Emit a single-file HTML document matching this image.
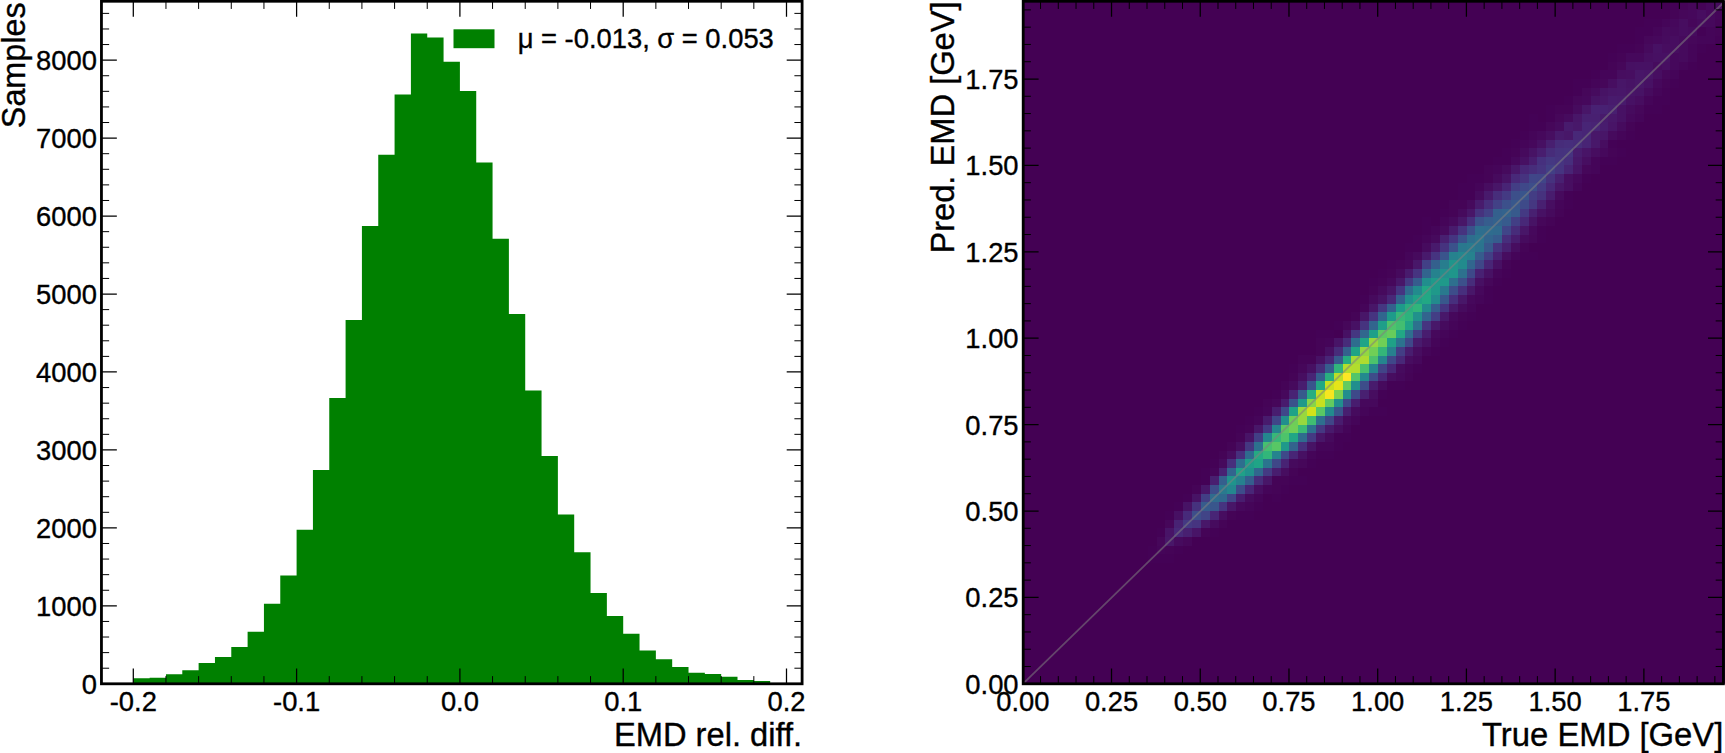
<!DOCTYPE html>
<html><head><meta charset="utf-8"><title>EMD regression</title>
<style>
html,body{margin:0;padding:0;background:#fff;}
body{width:1725px;height:753px;overflow:hidden;}
svg{display:block;font-family:"Liberation Sans", sans-serif;}
text{stroke:#000;stroke-width:0.35px;}
</style></head><body>
<svg width="1725" height="753" viewBox="0 0 1725 753">
<rect width="1725" height="753" fill="#fff"/>
<path d="M133.3 683.8L133.3 678.2L149.63 678.2L149.63 677.7L165.96 677.7L165.96 674.2L182.29 674.2L182.29 670.2L198.62 670.2L198.62 663L214.95 663L214.95 657L231.28 657L231.28 647L247.61 647L247.61 631.7L263.94 631.7L263.94 603.8L280.27 603.8L280.27 575.4L296.6 575.4L296.6 529.8L312.93 529.8L312.93 469.9L329.26 469.9L329.26 397.9L345.59 397.9L345.59 319.9L361.92 319.9L361.92 226L378.25 226L378.25 154.7L394.58 154.7L394.58 94.5L410.91 94.5L410.91 33.6L427.24 33.6L427.24 37.6L443.57 37.6L443.57 61.7L459.9 61.7L459.9 91L476.23 91L476.23 162.4L492.56 162.4L492.56 238.8L508.89 238.8L508.89 313.9L525.22 313.9L525.22 390.5L541.55 390.5L541.55 456L557.88 456L557.88 514.6L574.21 514.6L574.21 552.3L590.54 552.3L590.54 592.9L606.87 592.9L606.87 616L623.2 616L623.2 633.7L639.53 633.7L639.53 650.4L655.86 650.4L655.86 659.2L672.19 659.2L672.19 667L688.52 667L688.52 672.7L704.85 672.7L704.85 674L721.18 674L721.18 676.8L737.51 676.8L737.51 680L753.84 680L753.84 681L770.17 681L770.17 684L786.5 684L786.5 683.8Z" fill="#008000"/>
<path d="M133.3 1.25v15.4M133.3 683.8v-15.4M296.6 1.25v15.4M296.6 683.8v-15.4M459.9 1.25v15.4M459.9 683.8v-15.4M623.2 1.25v15.4M623.2 683.8v-15.4M786.5 1.25v15.4M786.5 683.8v-15.4" stroke="#000" stroke-width="1.25" fill="none"/>
<path d="M165.96 1.25v7.7M165.96 683.8v-7.7M198.62 1.25v7.7M198.62 683.8v-7.7M231.28 1.25v7.7M231.28 683.8v-7.7M263.94 1.25v7.7M263.94 683.8v-7.7M329.26 1.25v7.7M329.26 683.8v-7.7M361.92 1.25v7.7M361.92 683.8v-7.7M394.58 1.25v7.7M394.58 683.8v-7.7M427.24 1.25v7.7M427.24 683.8v-7.7M492.56 1.25v7.7M492.56 683.8v-7.7M525.22 1.25v7.7M525.22 683.8v-7.7M557.88 1.25v7.7M557.88 683.8v-7.7M590.54 1.25v7.7M590.54 683.8v-7.7M655.86 1.25v7.7M655.86 683.8v-7.7M688.52 1.25v7.7M688.52 683.8v-7.7M721.18 1.25v7.7M721.18 683.8v-7.7M753.84 1.25v7.7M753.84 683.8v-7.7" stroke="#000" stroke-width="1.0" fill="none"/>
<path d="M101.45 683.8h15.4M802.1 683.8h-15.4M101.45 605.84h15.4M802.1 605.84h-15.4M101.45 527.89h15.4M802.1 527.89h-15.4M101.45 449.93h15.4M802.1 449.93h-15.4M101.45 371.98h15.4M802.1 371.98h-15.4M101.45 294.02h15.4M802.1 294.02h-15.4M101.45 216.06h15.4M802.1 216.06h-15.4M101.45 138.11h15.4M802.1 138.11h-15.4M101.45 60.15h15.4M802.1 60.15h-15.4" stroke="#000" stroke-width="1.25" fill="none"/>
<path d="M101.45 668.21h7.7M802.1 668.21h-7.7M101.45 652.62h7.7M802.1 652.62h-7.7M101.45 637.03h7.7M802.1 637.03h-7.7M101.45 621.44h7.7M802.1 621.44h-7.7M101.45 590.25h7.7M802.1 590.25h-7.7M101.45 574.66h7.7M802.1 574.66h-7.7M101.45 559.07h7.7M802.1 559.07h-7.7M101.45 543.48h7.7M802.1 543.48h-7.7M101.45 512.3h7.7M802.1 512.3h-7.7M101.45 496.71h7.7M802.1 496.71h-7.7M101.45 481.11h7.7M802.1 481.11h-7.7M101.45 465.52h7.7M802.1 465.52h-7.7M101.45 434.34h7.7M802.1 434.34h-7.7M101.45 418.75h7.7M802.1 418.75h-7.7M101.45 403.16h7.7M802.1 403.16h-7.7M101.45 387.57h7.7M802.1 387.57h-7.7M101.45 356.38h7.7M802.1 356.38h-7.7M101.45 340.79h7.7M802.1 340.79h-7.7M101.45 325.2h7.7M802.1 325.2h-7.7M101.45 309.61h7.7M802.1 309.61h-7.7M101.45 278.43h7.7M802.1 278.43h-7.7M101.45 262.84h7.7M802.1 262.84h-7.7M101.45 247.25h7.7M802.1 247.25h-7.7M101.45 231.66h7.7M802.1 231.66h-7.7M101.45 200.47h7.7M802.1 200.47h-7.7M101.45 184.88h7.7M802.1 184.88h-7.7M101.45 169.29h7.7M802.1 169.29h-7.7M101.45 153.7h7.7M802.1 153.7h-7.7M101.45 122.52h7.7M802.1 122.52h-7.7M101.45 106.93h7.7M802.1 106.93h-7.7M101.45 91.33h7.7M802.1 91.33h-7.7M101.45 75.74h7.7M802.1 75.74h-7.7M101.45 44.56h7.7M802.1 44.56h-7.7M101.45 28.97h7.7M802.1 28.97h-7.7M101.45 13.38h7.7M802.1 13.38h-7.7" stroke="#000" stroke-width="1.0" fill="none"/>
<rect x="101.45" y="1.25" width="700.65" height="682.55" fill="none" stroke="#000" stroke-width="2.8"/>
<g font-size="27.35" fill="#000">
<text x="133.3" y="711.0" text-anchor="middle">-0.2</text>
<text x="296.6" y="711.0" text-anchor="middle">-0.1</text>
<text x="459.9" y="711.0" text-anchor="middle">0.0</text>
<text x="623.2" y="711.0" text-anchor="middle">0.1</text>
<text x="786.5" y="711.0" text-anchor="middle">0.2</text>
<text x="96.9" y="693.7" text-anchor="end">0</text>
<text x="96.9" y="615.74" text-anchor="end">1000</text>
<text x="96.9" y="537.79" text-anchor="end">2000</text>
<text x="96.9" y="459.83" text-anchor="end">3000</text>
<text x="96.9" y="381.88" text-anchor="end">4000</text>
<text x="96.9" y="303.92" text-anchor="end">5000</text>
<text x="96.9" y="225.96" text-anchor="end">6000</text>
<text x="96.9" y="148.01" text-anchor="end">7000</text>
<text x="96.9" y="70.05" text-anchor="end">8000</text>
</g>
<rect x="453.5" y="29.3" width="41" height="18.9" fill="#008000"/>
<text x="517.7" y="47.6" font-size="27.35">μ = -0.013, σ = 0.053</text>
<text x="802.2" y="745.6" font-size="32.7" text-anchor="end">EMD rel. diff.</text>
<text transform="translate(24.7 2.4) rotate(-90)" font-size="32.33" text-anchor="end">Samples</text>
<clipPath id="cr"><rect x="1023.2" y="1.25" width="701.8" height="682.55"/></clipPath>
<rect x="1023.2" y="1.25" width="701.8" height="682.55" fill="#440154"/>
<g clip-path="url(#cr)" shape-rendering="crispEdges">
<rect x="1147.64" y="554.2" width="8.91" height="8.69" fill="#440256"/>
<rect x="1147.64" y="545.56" width="8.91" height="8.69" fill="#440256"/>
<rect x="1156.5" y="554.2" width="8.91" height="8.69" fill="#440256"/>
<rect x="1156.5" y="545.56" width="8.91" height="8.69" fill="#450559"/>
<rect x="1156.5" y="536.92" width="8.91" height="8.69" fill="#46075a"/>
<rect x="1156.5" y="528.28" width="8.91" height="8.69" fill="#440256"/>
<rect x="1165.36" y="554.2" width="8.91" height="8.69" fill="#440256"/>
<rect x="1165.36" y="545.56" width="8.91" height="8.69" fill="#450457"/>
<rect x="1165.36" y="536.92" width="8.91" height="8.69" fill="#481769"/>
<rect x="1165.36" y="528.28" width="8.91" height="8.69" fill="#481467"/>
<rect x="1165.36" y="519.64" width="8.91" height="8.69" fill="#46075a"/>
<rect x="1165.36" y="511" width="8.91" height="8.69" fill="#440256"/>
<rect x="1174.22" y="545.56" width="8.91" height="8.69" fill="#440256"/>
<rect x="1174.22" y="536.92" width="8.91" height="8.69" fill="#460b5e"/>
<rect x="1174.22" y="528.28" width="8.91" height="8.69" fill="#482979"/>
<rect x="1174.22" y="519.64" width="8.91" height="8.69" fill="#482374"/>
<rect x="1174.22" y="511" width="8.91" height="8.69" fill="#471063"/>
<rect x="1174.22" y="502.36" width="8.91" height="8.69" fill="#440256"/>
<rect x="1183.08" y="536.92" width="8.91" height="8.69" fill="#46075a"/>
<rect x="1183.08" y="528.28" width="8.91" height="8.69" fill="#482071"/>
<rect x="1183.08" y="519.64" width="8.91" height="8.69" fill="#443983"/>
<rect x="1183.08" y="511" width="8.91" height="8.69" fill="#472a7a"/>
<rect x="1183.08" y="502.36" width="8.91" height="8.69" fill="#471365"/>
<rect x="1183.08" y="493.72" width="8.91" height="8.69" fill="#440256"/>
<rect x="1191.94" y="528.28" width="8.91" height="8.69" fill="#481467"/>
<rect x="1191.94" y="519.64" width="8.91" height="8.69" fill="#463480"/>
<rect x="1191.94" y="511" width="8.91" height="8.69" fill="#3d4e8a"/>
<rect x="1191.94" y="502.36" width="8.91" height="8.69" fill="#46327e"/>
<rect x="1191.94" y="493.72" width="8.91" height="8.69" fill="#471365"/>
<rect x="1191.94" y="485.08" width="8.91" height="8.69" fill="#450457"/>
<rect x="1200.8" y="528.28" width="8.91" height="8.69" fill="#450457"/>
<rect x="1200.8" y="519.64" width="8.91" height="8.69" fill="#481769"/>
<rect x="1200.8" y="511" width="8.91" height="8.69" fill="#414487"/>
<rect x="1200.8" y="502.36" width="8.91" height="8.69" fill="#365c8d"/>
<rect x="1200.8" y="493.72" width="8.91" height="8.69" fill="#423f85"/>
<rect x="1200.8" y="485.08" width="8.91" height="8.69" fill="#481769"/>
<rect x="1200.8" y="476.44" width="8.91" height="8.69" fill="#440256"/>
<rect x="1200.8" y="467.8" width="8.91" height="8.69" fill="#440256"/>
<rect x="1209.66" y="528.28" width="8.91" height="8.69" fill="#440256"/>
<rect x="1209.66" y="519.64" width="8.91" height="8.69" fill="#460b5e"/>
<rect x="1209.66" y="511" width="8.91" height="8.69" fill="#482576"/>
<rect x="1209.66" y="502.36" width="8.91" height="8.69" fill="#39568c"/>
<rect x="1209.66" y="493.72" width="8.91" height="8.69" fill="#2f6c8e"/>
<rect x="1209.66" y="485.08" width="8.91" height="8.69" fill="#3d4d8a"/>
<rect x="1209.66" y="476.44" width="8.91" height="8.69" fill="#481f70"/>
<rect x="1209.66" y="467.8" width="8.91" height="8.69" fill="#450559"/>
<rect x="1209.66" y="459.16" width="8.91" height="8.69" fill="#440256"/>
<rect x="1218.52" y="519.64" width="8.91" height="8.69" fill="#450457"/>
<rect x="1218.52" y="511" width="8.91" height="8.69" fill="#470d60"/>
<rect x="1218.52" y="502.36" width="8.91" height="8.69" fill="#463480"/>
<rect x="1218.52" y="493.72" width="8.91" height="8.69" fill="#30698e"/>
<rect x="1218.52" y="485.08" width="8.91" height="8.69" fill="#297a8e"/>
<rect x="1218.52" y="476.44" width="8.91" height="8.69" fill="#355f8d"/>
<rect x="1218.52" y="467.8" width="8.91" height="8.69" fill="#482173"/>
<rect x="1218.52" y="459.16" width="8.91" height="8.69" fill="#460a5d"/>
<rect x="1218.52" y="450.52" width="8.91" height="8.69" fill="#450457"/>
<rect x="1227.38" y="511" width="8.91" height="8.69" fill="#450457"/>
<rect x="1227.38" y="502.36" width="8.91" height="8.69" fill="#481668"/>
<rect x="1227.38" y="493.72" width="8.91" height="8.69" fill="#404688"/>
<rect x="1227.38" y="485.08" width="8.91" height="8.69" fill="#24878e"/>
<rect x="1227.38" y="476.44" width="8.91" height="8.69" fill="#1f948c"/>
<rect x="1227.38" y="467.8" width="8.91" height="8.69" fill="#32648e"/>
<rect x="1227.38" y="459.16" width="8.91" height="8.69" fill="#472f7d"/>
<rect x="1227.38" y="450.52" width="8.91" height="8.69" fill="#470d60"/>
<rect x="1227.38" y="441.88" width="8.91" height="8.69" fill="#450457"/>
<rect x="1236.24" y="511" width="8.91" height="8.69" fill="#440256"/>
<rect x="1236.24" y="502.36" width="8.91" height="8.69" fill="#46085c"/>
<rect x="1236.24" y="493.72" width="8.91" height="8.69" fill="#481d6f"/>
<rect x="1236.24" y="485.08" width="8.91" height="8.69" fill="#3d4d8a"/>
<rect x="1236.24" y="476.44" width="8.91" height="8.69" fill="#26828e"/>
<rect x="1236.24" y="467.8" width="8.91" height="8.69" fill="#1fa188"/>
<rect x="1236.24" y="459.16" width="8.91" height="8.69" fill="#2e6e8e"/>
<rect x="1236.24" y="450.52" width="8.91" height="8.69" fill="#472f7d"/>
<rect x="1236.24" y="441.88" width="8.91" height="8.69" fill="#470e61"/>
<rect x="1236.24" y="433.24" width="8.91" height="8.69" fill="#450457"/>
<rect x="1236.24" y="424.6" width="8.91" height="8.69" fill="#440256"/>
<rect x="1245.1" y="511" width="8.91" height="8.69" fill="#440256"/>
<rect x="1245.1" y="502.36" width="8.91" height="8.69" fill="#450559"/>
<rect x="1245.1" y="493.72" width="8.91" height="8.69" fill="#460b5e"/>
<rect x="1245.1" y="485.08" width="8.91" height="8.69" fill="#482677"/>
<rect x="1245.1" y="476.44" width="8.91" height="8.69" fill="#355e8d"/>
<rect x="1245.1" y="467.8" width="8.91" height="8.69" fill="#20928c"/>
<rect x="1245.1" y="459.16" width="8.91" height="8.69" fill="#1e9c89"/>
<rect x="1245.1" y="450.52" width="8.91" height="8.69" fill="#2f6b8e"/>
<rect x="1245.1" y="441.88" width="8.91" height="8.69" fill="#453781"/>
<rect x="1245.1" y="433.24" width="8.91" height="8.69" fill="#481467"/>
<rect x="1245.1" y="424.6" width="8.91" height="8.69" fill="#450457"/>
<rect x="1245.1" y="415.96" width="8.91" height="8.69" fill="#440256"/>
<rect x="1253.96" y="502.36" width="8.91" height="8.69" fill="#440256"/>
<rect x="1253.96" y="493.72" width="8.91" height="8.69" fill="#450559"/>
<rect x="1253.96" y="485.08" width="8.91" height="8.69" fill="#470e61"/>
<rect x="1253.96" y="476.44" width="8.91" height="8.69" fill="#472d7b"/>
<rect x="1253.96" y="467.8" width="8.91" height="8.69" fill="#31678e"/>
<rect x="1253.96" y="459.16" width="8.91" height="8.69" fill="#20a486"/>
<rect x="1253.96" y="450.52" width="8.91" height="8.69" fill="#24aa83"/>
<rect x="1253.96" y="441.88" width="8.91" height="8.69" fill="#2d718e"/>
<rect x="1253.96" y="433.24" width="8.91" height="8.69" fill="#423f85"/>
<rect x="1253.96" y="424.6" width="8.91" height="8.69" fill="#481769"/>
<rect x="1253.96" y="415.96" width="8.91" height="8.69" fill="#450559"/>
<rect x="1253.96" y="407.32" width="8.91" height="8.69" fill="#440256"/>
<rect x="1262.82" y="485.08" width="8.91" height="8.69" fill="#450559"/>
<rect x="1262.82" y="476.44" width="8.91" height="8.69" fill="#481668"/>
<rect x="1262.82" y="467.8" width="8.91" height="8.69" fill="#443a83"/>
<rect x="1262.82" y="459.16" width="8.91" height="8.69" fill="#2b748e"/>
<rect x="1262.82" y="450.52" width="8.91" height="8.69" fill="#32b67a"/>
<rect x="1262.82" y="441.88" width="8.91" height="8.69" fill="#46c06f"/>
<rect x="1262.82" y="433.24" width="8.91" height="8.69" fill="#24868e"/>
<rect x="1262.82" y="424.6" width="8.91" height="8.69" fill="#443983"/>
<rect x="1262.82" y="415.96" width="8.91" height="8.69" fill="#481b6d"/>
<rect x="1262.82" y="407.32" width="8.91" height="8.69" fill="#450559"/>
<rect x="1262.82" y="398.68" width="8.91" height="8.69" fill="#450457"/>
<rect x="1271.68" y="493.72" width="8.91" height="8.69" fill="#440256"/>
<rect x="1271.68" y="485.08" width="8.91" height="8.69" fill="#450457"/>
<rect x="1271.68" y="476.44" width="8.91" height="8.69" fill="#450457"/>
<rect x="1271.68" y="467.8" width="8.91" height="8.69" fill="#481d6f"/>
<rect x="1271.68" y="459.16" width="8.91" height="8.69" fill="#3f4788"/>
<rect x="1271.68" y="450.52" width="8.91" height="8.69" fill="#25838e"/>
<rect x="1271.68" y="441.88" width="8.91" height="8.69" fill="#58c765"/>
<rect x="1271.68" y="433.24" width="8.91" height="8.69" fill="#37b878"/>
<rect x="1271.68" y="424.6" width="8.91" height="8.69" fill="#25858e"/>
<rect x="1271.68" y="415.96" width="8.91" height="8.69" fill="#404588"/>
<rect x="1271.68" y="407.32" width="8.91" height="8.69" fill="#481d6f"/>
<rect x="1271.68" y="398.68" width="8.91" height="8.69" fill="#46075a"/>
<rect x="1271.68" y="390.04" width="8.91" height="8.69" fill="#440256"/>
<rect x="1280.54" y="485.08" width="8.91" height="8.69" fill="#440256"/>
<rect x="1280.54" y="476.44" width="8.91" height="8.69" fill="#450457"/>
<rect x="1280.54" y="467.8" width="8.91" height="8.69" fill="#470d60"/>
<rect x="1280.54" y="459.16" width="8.91" height="8.69" fill="#482374"/>
<rect x="1280.54" y="450.52" width="8.91" height="8.69" fill="#3e4989"/>
<rect x="1280.54" y="441.88" width="8.91" height="8.69" fill="#1f998a"/>
<rect x="1280.54" y="433.24" width="8.91" height="8.69" fill="#4ec36b"/>
<rect x="1280.54" y="424.6" width="8.91" height="8.69" fill="#5cc863"/>
<rect x="1280.54" y="415.96" width="8.91" height="8.69" fill="#218f8d"/>
<rect x="1280.54" y="407.32" width="8.91" height="8.69" fill="#3f4889"/>
<rect x="1280.54" y="398.68" width="8.91" height="8.69" fill="#481b6d"/>
<rect x="1280.54" y="390.04" width="8.91" height="8.69" fill="#46085c"/>
<rect x="1280.54" y="381.4" width="8.91" height="8.69" fill="#450457"/>
<rect x="1289.4" y="476.44" width="8.91" height="8.69" fill="#440256"/>
<rect x="1289.4" y="467.8" width="8.91" height="8.69" fill="#450457"/>
<rect x="1289.4" y="459.16" width="8.91" height="8.69" fill="#460a5d"/>
<rect x="1289.4" y="450.52" width="8.91" height="8.69" fill="#482576"/>
<rect x="1289.4" y="441.88" width="8.91" height="8.69" fill="#33638d"/>
<rect x="1289.4" y="433.24" width="8.91" height="8.69" fill="#21a685"/>
<rect x="1289.4" y="424.6" width="8.91" height="8.69" fill="#70cf57"/>
<rect x="1289.4" y="415.96" width="8.91" height="8.69" fill="#6ece58"/>
<rect x="1289.4" y="407.32" width="8.91" height="8.69" fill="#1fa287"/>
<rect x="1289.4" y="398.68" width="8.91" height="8.69" fill="#3a538b"/>
<rect x="1289.4" y="390.04" width="8.91" height="8.69" fill="#482374"/>
<rect x="1289.4" y="381.4" width="8.91" height="8.69" fill="#460a5d"/>
<rect x="1289.4" y="372.76" width="8.91" height="8.69" fill="#450457"/>
<rect x="1289.4" y="364.12" width="8.91" height="8.69" fill="#440256"/>
<rect x="1298.26" y="476.44" width="8.91" height="8.69" fill="#440256"/>
<rect x="1298.26" y="459.16" width="8.91" height="8.69" fill="#46075a"/>
<rect x="1298.26" y="450.52" width="8.91" height="8.69" fill="#471063"/>
<rect x="1298.26" y="441.88" width="8.91" height="8.69" fill="#472f7d"/>
<rect x="1298.26" y="433.24" width="8.91" height="8.69" fill="#2f6c8e"/>
<rect x="1298.26" y="424.6" width="8.91" height="8.69" fill="#3bbb75"/>
<rect x="1298.26" y="415.96" width="8.91" height="8.69" fill="#98d83e"/>
<rect x="1298.26" y="407.32" width="8.91" height="8.69" fill="#98d83e"/>
<rect x="1298.26" y="398.68" width="8.91" height="8.69" fill="#1f998a"/>
<rect x="1298.26" y="390.04" width="8.91" height="8.69" fill="#375a8c"/>
<rect x="1298.26" y="381.4" width="8.91" height="8.69" fill="#481d6f"/>
<rect x="1298.26" y="372.76" width="8.91" height="8.69" fill="#470e61"/>
<rect x="1298.26" y="364.12" width="8.91" height="8.69" fill="#46075a"/>
<rect x="1298.26" y="355.48" width="8.91" height="8.69" fill="#450457"/>
<rect x="1307.12" y="459.16" width="8.91" height="8.69" fill="#440256"/>
<rect x="1307.12" y="450.52" width="8.91" height="8.69" fill="#450559"/>
<rect x="1307.12" y="441.88" width="8.91" height="8.69" fill="#471365"/>
<rect x="1307.12" y="433.24" width="8.91" height="8.69" fill="#443a83"/>
<rect x="1307.12" y="424.6" width="8.91" height="8.69" fill="#2d718e"/>
<rect x="1307.12" y="415.96" width="8.91" height="8.69" fill="#40bd72"/>
<rect x="1307.12" y="407.32" width="8.91" height="8.69" fill="#d2e21b"/>
<rect x="1307.12" y="398.68" width="8.91" height="8.69" fill="#86d549"/>
<rect x="1307.12" y="390.04" width="8.91" height="8.69" fill="#27ad81"/>
<rect x="1307.12" y="381.4" width="8.91" height="8.69" fill="#39558c"/>
<rect x="1307.12" y="372.76" width="8.91" height="8.69" fill="#482576"/>
<rect x="1307.12" y="364.12" width="8.91" height="8.69" fill="#471063"/>
<rect x="1307.12" y="355.48" width="8.91" height="8.69" fill="#450457"/>
<rect x="1315.98" y="450.52" width="8.91" height="8.69" fill="#440256"/>
<rect x="1315.98" y="441.88" width="8.91" height="8.69" fill="#450559"/>
<rect x="1315.98" y="433.24" width="8.91" height="8.69" fill="#481668"/>
<rect x="1315.98" y="424.6" width="8.91" height="8.69" fill="#453882"/>
<rect x="1315.98" y="415.96" width="8.91" height="8.69" fill="#2e6f8e"/>
<rect x="1315.98" y="407.32" width="8.91" height="8.69" fill="#5ac864"/>
<rect x="1315.98" y="398.68" width="8.91" height="8.69" fill="#c8e020"/>
<rect x="1315.98" y="390.04" width="8.91" height="8.69" fill="#c2df23"/>
<rect x="1315.98" y="381.4" width="8.91" height="8.69" fill="#22a884"/>
<rect x="1315.98" y="372.76" width="8.91" height="8.69" fill="#355f8d"/>
<rect x="1315.98" y="364.12" width="8.91" height="8.69" fill="#472c7a"/>
<rect x="1315.98" y="355.48" width="8.91" height="8.69" fill="#471164"/>
<rect x="1315.98" y="346.84" width="8.91" height="8.69" fill="#450457"/>
<rect x="1315.98" y="338.2" width="8.91" height="8.69" fill="#450457"/>
<rect x="1315.98" y="329.56" width="8.91" height="8.69" fill="#440256"/>
<rect x="1324.84" y="450.52" width="8.91" height="8.69" fill="#440256"/>
<rect x="1324.84" y="441.88" width="8.91" height="8.69" fill="#450559"/>
<rect x="1324.84" y="433.24" width="8.91" height="8.69" fill="#460a5d"/>
<rect x="1324.84" y="424.6" width="8.91" height="8.69" fill="#481a6c"/>
<rect x="1324.84" y="415.96" width="8.91" height="8.69" fill="#404688"/>
<rect x="1324.84" y="407.32" width="8.91" height="8.69" fill="#228b8d"/>
<rect x="1324.84" y="398.68" width="8.91" height="8.69" fill="#63cb5f"/>
<rect x="1324.84" y="390.04" width="8.91" height="8.69" fill="#f6e620"/>
<rect x="1324.84" y="381.4" width="8.91" height="8.69" fill="#c8e020"/>
<rect x="1324.84" y="372.76" width="8.91" height="8.69" fill="#29af7f"/>
<rect x="1324.84" y="364.12" width="8.91" height="8.69" fill="#365d8d"/>
<rect x="1324.84" y="355.48" width="8.91" height="8.69" fill="#482677"/>
<rect x="1324.84" y="346.84" width="8.91" height="8.69" fill="#471063"/>
<rect x="1324.84" y="338.2" width="8.91" height="8.69" fill="#450559"/>
<rect x="1324.84" y="329.56" width="8.91" height="8.69" fill="#440256"/>
<rect x="1333.7" y="441.88" width="8.91" height="8.69" fill="#440256"/>
<rect x="1333.7" y="433.24" width="8.91" height="8.69" fill="#440256"/>
<rect x="1333.7" y="424.6" width="8.91" height="8.69" fill="#470d60"/>
<rect x="1333.7" y="415.96" width="8.91" height="8.69" fill="#481c6e"/>
<rect x="1333.7" y="407.32" width="8.91" height="8.69" fill="#39558c"/>
<rect x="1333.7" y="398.68" width="8.91" height="8.69" fill="#218f8d"/>
<rect x="1333.7" y="390.04" width="8.91" height="8.69" fill="#7cd250"/>
<rect x="1333.7" y="381.4" width="8.91" height="8.69" fill="#e5e419"/>
<rect x="1333.7" y="372.76" width="8.91" height="8.69" fill="#bade28"/>
<rect x="1333.7" y="364.12" width="8.91" height="8.69" fill="#31b57b"/>
<rect x="1333.7" y="355.48" width="8.91" height="8.69" fill="#375b8d"/>
<rect x="1333.7" y="346.84" width="8.91" height="8.69" fill="#472c7a"/>
<rect x="1333.7" y="338.2" width="8.91" height="8.69" fill="#481467"/>
<rect x="1333.7" y="320.92" width="8.91" height="8.69" fill="#440256"/>
<rect x="1342.56" y="433.24" width="8.91" height="8.69" fill="#440256"/>
<rect x="1342.56" y="424.6" width="8.91" height="8.69" fill="#450559"/>
<rect x="1342.56" y="415.96" width="8.91" height="8.69" fill="#460a5d"/>
<rect x="1342.56" y="407.32" width="8.91" height="8.69" fill="#481f70"/>
<rect x="1342.56" y="398.68" width="8.91" height="8.69" fill="#3f4889"/>
<rect x="1342.56" y="390.04" width="8.91" height="8.69" fill="#228d8d"/>
<rect x="1342.56" y="381.4" width="8.91" height="8.69" fill="#63cb5f"/>
<rect x="1342.56" y="372.76" width="8.91" height="8.69" fill="#fde725"/>
<rect x="1342.56" y="364.12" width="8.91" height="8.69" fill="#b5de2b"/>
<rect x="1342.56" y="355.48" width="8.91" height="8.69" fill="#26ad81"/>
<rect x="1342.56" y="346.84" width="8.91" height="8.69" fill="#34618d"/>
<rect x="1342.56" y="338.2" width="8.91" height="8.69" fill="#472c7a"/>
<rect x="1342.56" y="329.56" width="8.91" height="8.69" fill="#471164"/>
<rect x="1342.56" y="320.92" width="8.91" height="8.69" fill="#46075a"/>
<rect x="1351.42" y="415.96" width="8.91" height="8.69" fill="#450559"/>
<rect x="1351.42" y="407.32" width="8.91" height="8.69" fill="#460b5e"/>
<rect x="1351.42" y="398.68" width="8.91" height="8.69" fill="#481d6f"/>
<rect x="1351.42" y="390.04" width="8.91" height="8.69" fill="#3e4989"/>
<rect x="1351.42" y="381.4" width="8.91" height="8.69" fill="#218e8d"/>
<rect x="1351.42" y="372.76" width="8.91" height="8.69" fill="#52c569"/>
<rect x="1351.42" y="364.12" width="8.91" height="8.69" fill="#b2dd2d"/>
<rect x="1351.42" y="355.48" width="8.91" height="8.69" fill="#a5db36"/>
<rect x="1351.42" y="346.84" width="8.91" height="8.69" fill="#20a386"/>
<rect x="1351.42" y="338.2" width="8.91" height="8.69" fill="#2e6d8e"/>
<rect x="1351.42" y="329.56" width="8.91" height="8.69" fill="#453781"/>
<rect x="1351.42" y="320.92" width="8.91" height="8.69" fill="#471164"/>
<rect x="1351.42" y="312.28" width="8.91" height="8.69" fill="#450457"/>
<rect x="1360.28" y="407.32" width="8.91" height="8.69" fill="#450559"/>
<rect x="1360.28" y="398.68" width="8.91" height="8.69" fill="#46085c"/>
<rect x="1360.28" y="390.04" width="8.91" height="8.69" fill="#482071"/>
<rect x="1360.28" y="381.4" width="8.91" height="8.69" fill="#3d4d8a"/>
<rect x="1360.28" y="372.76" width="8.91" height="8.69" fill="#23898e"/>
<rect x="1360.28" y="364.12" width="8.91" height="8.69" fill="#48c16e"/>
<rect x="1360.28" y="355.48" width="8.91" height="8.69" fill="#addc30"/>
<rect x="1360.28" y="346.84" width="8.91" height="8.69" fill="#93d741"/>
<rect x="1360.28" y="338.2" width="8.91" height="8.69" fill="#20a486"/>
<rect x="1360.28" y="329.56" width="8.91" height="8.69" fill="#31678e"/>
<rect x="1360.28" y="320.92" width="8.91" height="8.69" fill="#46337f"/>
<rect x="1360.28" y="312.28" width="8.91" height="8.69" fill="#481668"/>
<rect x="1360.28" y="303.64" width="8.91" height="8.69" fill="#450559"/>
<rect x="1360.28" y="295" width="8.91" height="8.69" fill="#440256"/>
<rect x="1369.14" y="407.32" width="8.91" height="8.69" fill="#440256"/>
<rect x="1369.14" y="398.68" width="8.91" height="8.69" fill="#46085c"/>
<rect x="1369.14" y="390.04" width="8.91" height="8.69" fill="#470d60"/>
<rect x="1369.14" y="381.4" width="8.91" height="8.69" fill="#481b6d"/>
<rect x="1369.14" y="372.76" width="8.91" height="8.69" fill="#3e4c8a"/>
<rect x="1369.14" y="364.12" width="8.91" height="8.69" fill="#25858e"/>
<rect x="1369.14" y="355.48" width="8.91" height="8.69" fill="#4cc26c"/>
<rect x="1369.14" y="346.84" width="8.91" height="8.69" fill="#70cf57"/>
<rect x="1369.14" y="338.2" width="8.91" height="8.69" fill="#98d83e"/>
<rect x="1369.14" y="329.56" width="8.91" height="8.69" fill="#1f9f88"/>
<rect x="1369.14" y="320.92" width="8.91" height="8.69" fill="#32658e"/>
<rect x="1369.14" y="312.28" width="8.91" height="8.69" fill="#463480"/>
<rect x="1369.14" y="303.64" width="8.91" height="8.69" fill="#481668"/>
<rect x="1369.14" y="295" width="8.91" height="8.69" fill="#460a5d"/>
<rect x="1369.14" y="286.36" width="8.91" height="8.69" fill="#450457"/>
<rect x="1369.14" y="277.72" width="8.91" height="8.69" fill="#440256"/>
<rect x="1378" y="407.32" width="8.91" height="8.69" fill="#440256"/>
<rect x="1378" y="390.04" width="8.91" height="8.69" fill="#440256"/>
<rect x="1378" y="381.4" width="8.91" height="8.69" fill="#460a5d"/>
<rect x="1378" y="372.76" width="8.91" height="8.69" fill="#482677"/>
<rect x="1378" y="364.12" width="8.91" height="8.69" fill="#414487"/>
<rect x="1378" y="355.48" width="8.91" height="8.69" fill="#25858e"/>
<rect x="1378" y="346.84" width="8.91" height="8.69" fill="#34b679"/>
<rect x="1378" y="338.2" width="8.91" height="8.69" fill="#70cf57"/>
<rect x="1378" y="329.56" width="8.91" height="8.69" fill="#5cc863"/>
<rect x="1378" y="320.92" width="8.91" height="8.69" fill="#1f9e89"/>
<rect x="1378" y="312.28" width="8.91" height="8.69" fill="#31668e"/>
<rect x="1378" y="303.64" width="8.91" height="8.69" fill="#453781"/>
<rect x="1378" y="295" width="8.91" height="8.69" fill="#471365"/>
<rect x="1378" y="286.36" width="8.91" height="8.69" fill="#460a5d"/>
<rect x="1378" y="277.72" width="8.91" height="8.69" fill="#450457"/>
<rect x="1378" y="269.08" width="8.91" height="8.69" fill="#440256"/>
<rect x="1386.86" y="381.4" width="8.91" height="8.69" fill="#440256"/>
<rect x="1386.86" y="372.76" width="8.91" height="8.69" fill="#470d60"/>
<rect x="1386.86" y="364.12" width="8.91" height="8.69" fill="#482677"/>
<rect x="1386.86" y="355.48" width="8.91" height="8.69" fill="#3f4889"/>
<rect x="1386.86" y="346.84" width="8.91" height="8.69" fill="#27808e"/>
<rect x="1386.86" y="338.2" width="8.91" height="8.69" fill="#1fa187"/>
<rect x="1386.86" y="329.56" width="8.91" height="8.69" fill="#67cc5c"/>
<rect x="1386.86" y="320.92" width="8.91" height="8.69" fill="#4ec36b"/>
<rect x="1386.86" y="312.28" width="8.91" height="8.69" fill="#1e9b8a"/>
<rect x="1386.86" y="303.64" width="8.91" height="8.69" fill="#34618d"/>
<rect x="1386.86" y="295" width="8.91" height="8.69" fill="#482878"/>
<rect x="1386.86" y="286.36" width="8.91" height="8.69" fill="#481467"/>
<rect x="1386.86" y="277.72" width="8.91" height="8.69" fill="#46085c"/>
<rect x="1386.86" y="269.08" width="8.91" height="8.69" fill="#450457"/>
<rect x="1386.86" y="260.44" width="8.91" height="8.69" fill="#440256"/>
<rect x="1395.72" y="381.4" width="8.91" height="8.69" fill="#440256"/>
<rect x="1395.72" y="372.76" width="8.91" height="8.69" fill="#46085c"/>
<rect x="1395.72" y="364.12" width="8.91" height="8.69" fill="#460b5e"/>
<rect x="1395.72" y="355.48" width="8.91" height="8.69" fill="#482878"/>
<rect x="1395.72" y="346.84" width="8.91" height="8.69" fill="#433e85"/>
<rect x="1395.72" y="338.2" width="8.91" height="8.69" fill="#2c738e"/>
<rect x="1395.72" y="329.56" width="8.91" height="8.69" fill="#22a785"/>
<rect x="1395.72" y="320.92" width="8.91" height="8.69" fill="#42be71"/>
<rect x="1395.72" y="312.28" width="8.91" height="8.69" fill="#37b878"/>
<rect x="1395.72" y="303.64" width="8.91" height="8.69" fill="#1e9b8a"/>
<rect x="1395.72" y="295" width="8.91" height="8.69" fill="#34608d"/>
<rect x="1395.72" y="286.36" width="8.91" height="8.69" fill="#453581"/>
<rect x="1395.72" y="277.72" width="8.91" height="8.69" fill="#481769"/>
<rect x="1395.72" y="269.08" width="8.91" height="8.69" fill="#460a5d"/>
<rect x="1395.72" y="260.44" width="8.91" height="8.69" fill="#450457"/>
<rect x="1404.58" y="372.76" width="8.91" height="8.69" fill="#450457"/>
<rect x="1404.58" y="364.12" width="8.91" height="8.69" fill="#450559"/>
<rect x="1404.58" y="355.48" width="8.91" height="8.69" fill="#470d60"/>
<rect x="1404.58" y="346.84" width="8.91" height="8.69" fill="#481d6f"/>
<rect x="1404.58" y="338.2" width="8.91" height="8.69" fill="#3f4889"/>
<rect x="1404.58" y="329.56" width="8.91" height="8.69" fill="#2e6f8e"/>
<rect x="1404.58" y="320.92" width="8.91" height="8.69" fill="#20a486"/>
<rect x="1404.58" y="312.28" width="8.91" height="8.69" fill="#2db27d"/>
<rect x="1404.58" y="303.64" width="8.91" height="8.69" fill="#29af7f"/>
<rect x="1404.58" y="295" width="8.91" height="8.69" fill="#21908d"/>
<rect x="1404.58" y="286.36" width="8.91" height="8.69" fill="#2f6c8e"/>
<rect x="1404.58" y="277.72" width="8.91" height="8.69" fill="#443a83"/>
<rect x="1404.58" y="269.08" width="8.91" height="8.69" fill="#481b6d"/>
<rect x="1404.58" y="260.44" width="8.91" height="8.69" fill="#46075a"/>
<rect x="1404.58" y="251.8" width="8.91" height="8.69" fill="#450559"/>
<rect x="1404.58" y="243.16" width="8.91" height="8.69" fill="#440256"/>
<rect x="1413.44" y="364.12" width="8.91" height="8.69" fill="#440256"/>
<rect x="1413.44" y="355.48" width="8.91" height="8.69" fill="#46085c"/>
<rect x="1413.44" y="346.84" width="8.91" height="8.69" fill="#470d60"/>
<rect x="1413.44" y="338.2" width="8.91" height="8.69" fill="#481b6d"/>
<rect x="1413.44" y="329.56" width="8.91" height="8.69" fill="#433e85"/>
<rect x="1413.44" y="320.92" width="8.91" height="8.69" fill="#2d718e"/>
<rect x="1413.44" y="312.28" width="8.91" height="8.69" fill="#21918c"/>
<rect x="1413.44" y="303.64" width="8.91" height="8.69" fill="#31b57b"/>
<rect x="1413.44" y="295" width="8.91" height="8.69" fill="#1fa287"/>
<rect x="1413.44" y="286.36" width="8.91" height="8.69" fill="#228b8d"/>
<rect x="1413.44" y="277.72" width="8.91" height="8.69" fill="#365c8d"/>
<rect x="1413.44" y="269.08" width="8.91" height="8.69" fill="#463480"/>
<rect x="1413.44" y="260.44" width="8.91" height="8.69" fill="#481769"/>
<rect x="1413.44" y="251.8" width="8.91" height="8.69" fill="#460a5d"/>
<rect x="1413.44" y="243.16" width="8.91" height="8.69" fill="#440256"/>
<rect x="1413.44" y="234.52" width="8.91" height="8.69" fill="#440256"/>
<rect x="1422.3" y="346.84" width="8.91" height="8.69" fill="#450559"/>
<rect x="1422.3" y="338.2" width="8.91" height="8.69" fill="#471063"/>
<rect x="1422.3" y="329.56" width="8.91" height="8.69" fill="#481d6f"/>
<rect x="1422.3" y="320.92" width="8.91" height="8.69" fill="#463480"/>
<rect x="1422.3" y="312.28" width="8.91" height="8.69" fill="#32658e"/>
<rect x="1422.3" y="303.64" width="8.91" height="8.69" fill="#228b8d"/>
<rect x="1422.3" y="295" width="8.91" height="8.69" fill="#22a884"/>
<rect x="1422.3" y="286.36" width="8.91" height="8.69" fill="#22a785"/>
<rect x="1422.3" y="277.72" width="8.91" height="8.69" fill="#218e8d"/>
<rect x="1422.3" y="269.08" width="8.91" height="8.69" fill="#32648e"/>
<rect x="1422.3" y="260.44" width="8.91" height="8.69" fill="#424086"/>
<rect x="1422.3" y="251.8" width="8.91" height="8.69" fill="#481a6c"/>
<rect x="1422.3" y="243.16" width="8.91" height="8.69" fill="#460b5e"/>
<rect x="1422.3" y="234.52" width="8.91" height="8.69" fill="#450559"/>
<rect x="1422.3" y="225.88" width="8.91" height="8.69" fill="#440256"/>
<rect x="1422.3" y="217.24" width="8.91" height="8.69" fill="#440256"/>
<rect x="1431.16" y="346.84" width="8.91" height="8.69" fill="#440256"/>
<rect x="1431.16" y="338.2" width="8.91" height="8.69" fill="#450559"/>
<rect x="1431.16" y="329.56" width="8.91" height="8.69" fill="#46085c"/>
<rect x="1431.16" y="320.92" width="8.91" height="8.69" fill="#48186a"/>
<rect x="1431.16" y="312.28" width="8.91" height="8.69" fill="#433e85"/>
<rect x="1431.16" y="303.64" width="8.91" height="8.69" fill="#365d8d"/>
<rect x="1431.16" y="295" width="8.91" height="8.69" fill="#228b8d"/>
<rect x="1431.16" y="286.36" width="8.91" height="8.69" fill="#1f998a"/>
<rect x="1431.16" y="277.72" width="8.91" height="8.69" fill="#1f9a8a"/>
<rect x="1431.16" y="269.08" width="8.91" height="8.69" fill="#26828e"/>
<rect x="1431.16" y="260.44" width="8.91" height="8.69" fill="#34608d"/>
<rect x="1431.16" y="251.8" width="8.91" height="8.69" fill="#463480"/>
<rect x="1431.16" y="243.16" width="8.91" height="8.69" fill="#481a6c"/>
<rect x="1431.16" y="234.52" width="8.91" height="8.69" fill="#460a5d"/>
<rect x="1431.16" y="225.88" width="8.91" height="8.69" fill="#450559"/>
<rect x="1440.02" y="338.2" width="8.91" height="8.69" fill="#440256"/>
<rect x="1440.02" y="329.56" width="8.91" height="8.69" fill="#450559"/>
<rect x="1440.02" y="320.92" width="8.91" height="8.69" fill="#460b5e"/>
<rect x="1440.02" y="312.28" width="8.91" height="8.69" fill="#48186a"/>
<rect x="1440.02" y="303.64" width="8.91" height="8.69" fill="#453581"/>
<rect x="1440.02" y="295" width="8.91" height="8.69" fill="#38588c"/>
<rect x="1440.02" y="286.36" width="8.91" height="8.69" fill="#29798e"/>
<rect x="1440.02" y="277.72" width="8.91" height="8.69" fill="#1f998a"/>
<rect x="1440.02" y="269.08" width="8.91" height="8.69" fill="#21908d"/>
<rect x="1440.02" y="260.44" width="8.91" height="8.69" fill="#287d8e"/>
<rect x="1440.02" y="251.8" width="8.91" height="8.69" fill="#3a548c"/>
<rect x="1440.02" y="243.16" width="8.91" height="8.69" fill="#46337f"/>
<rect x="1440.02" y="234.52" width="8.91" height="8.69" fill="#482071"/>
<rect x="1440.02" y="225.88" width="8.91" height="8.69" fill="#460a5d"/>
<rect x="1440.02" y="217.24" width="8.91" height="8.69" fill="#450559"/>
<rect x="1440.02" y="208.6" width="8.91" height="8.69" fill="#440256"/>
<rect x="1448.88" y="329.56" width="8.91" height="8.69" fill="#440256"/>
<rect x="1448.88" y="320.92" width="8.91" height="8.69" fill="#450559"/>
<rect x="1448.88" y="312.28" width="8.91" height="8.69" fill="#46085c"/>
<rect x="1448.88" y="303.64" width="8.91" height="8.69" fill="#48186a"/>
<rect x="1448.88" y="295" width="8.91" height="8.69" fill="#472f7d"/>
<rect x="1448.88" y="286.36" width="8.91" height="8.69" fill="#3d4d8a"/>
<rect x="1448.88" y="277.72" width="8.91" height="8.69" fill="#2e6f8e"/>
<rect x="1448.88" y="269.08" width="8.91" height="8.69" fill="#1f968b"/>
<rect x="1448.88" y="260.44" width="8.91" height="8.69" fill="#1f958b"/>
<rect x="1448.88" y="251.8" width="8.91" height="8.69" fill="#26828e"/>
<rect x="1448.88" y="243.16" width="8.91" height="8.69" fill="#3b528b"/>
<rect x="1448.88" y="234.52" width="8.91" height="8.69" fill="#453581"/>
<rect x="1448.88" y="225.88" width="8.91" height="8.69" fill="#481b6d"/>
<rect x="1448.88" y="217.24" width="8.91" height="8.69" fill="#460a5d"/>
<rect x="1448.88" y="208.6" width="8.91" height="8.69" fill="#450457"/>
<rect x="1448.88" y="199.96" width="8.91" height="8.69" fill="#450457"/>
<rect x="1457.74" y="320.92" width="8.91" height="8.69" fill="#440256"/>
<rect x="1457.74" y="312.28" width="8.91" height="8.69" fill="#450457"/>
<rect x="1457.74" y="303.64" width="8.91" height="8.69" fill="#460b5e"/>
<rect x="1457.74" y="295" width="8.91" height="8.69" fill="#481769"/>
<rect x="1457.74" y="286.36" width="8.91" height="8.69" fill="#472f7d"/>
<rect x="1457.74" y="277.72" width="8.91" height="8.69" fill="#3c508b"/>
<rect x="1457.74" y="269.08" width="8.91" height="8.69" fill="#2d718e"/>
<rect x="1457.74" y="260.44" width="8.91" height="8.69" fill="#228b8d"/>
<rect x="1457.74" y="251.8" width="8.91" height="8.69" fill="#24878e"/>
<rect x="1457.74" y="243.16" width="8.91" height="8.69" fill="#2a788e"/>
<rect x="1457.74" y="234.52" width="8.91" height="8.69" fill="#3a538b"/>
<rect x="1457.74" y="225.88" width="8.91" height="8.69" fill="#46337f"/>
<rect x="1457.74" y="217.24" width="8.91" height="8.69" fill="#481668"/>
<rect x="1457.74" y="208.6" width="8.91" height="8.69" fill="#460a5d"/>
<rect x="1457.74" y="199.96" width="8.91" height="8.69" fill="#450457"/>
<rect x="1457.74" y="191.32" width="8.91" height="8.69" fill="#440256"/>
<rect x="1457.74" y="182.68" width="8.91" height="8.69" fill="#440256"/>
<rect x="1466.6" y="312.28" width="8.91" height="8.69" fill="#440256"/>
<rect x="1466.6" y="303.64" width="8.91" height="8.69" fill="#450559"/>
<rect x="1466.6" y="295" width="8.91" height="8.69" fill="#46085c"/>
<rect x="1466.6" y="286.36" width="8.91" height="8.69" fill="#481769"/>
<rect x="1466.6" y="277.72" width="8.91" height="8.69" fill="#472d7b"/>
<rect x="1466.6" y="269.08" width="8.91" height="8.69" fill="#3e4989"/>
<rect x="1466.6" y="260.44" width="8.91" height="8.69" fill="#31668e"/>
<rect x="1466.6" y="251.8" width="8.91" height="8.69" fill="#26828e"/>
<rect x="1466.6" y="243.16" width="8.91" height="8.69" fill="#297b8e"/>
<rect x="1466.6" y="234.52" width="8.91" height="8.69" fill="#2e6e8e"/>
<rect x="1466.6" y="225.88" width="8.91" height="8.69" fill="#3b518b"/>
<rect x="1466.6" y="217.24" width="8.91" height="8.69" fill="#472e7c"/>
<rect x="1466.6" y="208.6" width="8.91" height="8.69" fill="#481668"/>
<rect x="1466.6" y="199.96" width="8.91" height="8.69" fill="#460a5d"/>
<rect x="1466.6" y="191.32" width="8.91" height="8.69" fill="#440256"/>
<rect x="1466.6" y="182.68" width="8.91" height="8.69" fill="#440256"/>
<rect x="1466.6" y="174.04" width="8.91" height="8.69" fill="#440256"/>
<rect x="1475.46" y="295" width="8.91" height="8.69" fill="#450559"/>
<rect x="1475.46" y="286.36" width="8.91" height="8.69" fill="#46085c"/>
<rect x="1475.46" y="277.72" width="8.91" height="8.69" fill="#471063"/>
<rect x="1475.46" y="269.08" width="8.91" height="8.69" fill="#482173"/>
<rect x="1475.46" y="260.44" width="8.91" height="8.69" fill="#3f4788"/>
<rect x="1475.46" y="251.8" width="8.91" height="8.69" fill="#365c8d"/>
<rect x="1475.46" y="243.16" width="8.91" height="8.69" fill="#2b748e"/>
<rect x="1475.46" y="234.52" width="8.91" height="8.69" fill="#2b758e"/>
<rect x="1475.46" y="225.88" width="8.91" height="8.69" fill="#2e6e8e"/>
<rect x="1475.46" y="217.24" width="8.91" height="8.69" fill="#3b528b"/>
<rect x="1475.46" y="208.6" width="8.91" height="8.69" fill="#46327e"/>
<rect x="1475.46" y="199.96" width="8.91" height="8.69" fill="#481b6d"/>
<rect x="1475.46" y="191.32" width="8.91" height="8.69" fill="#460b5e"/>
<rect x="1475.46" y="182.68" width="8.91" height="8.69" fill="#450559"/>
<rect x="1475.46" y="174.04" width="8.91" height="8.69" fill="#440256"/>
<rect x="1484.32" y="295" width="8.91" height="8.69" fill="#440256"/>
<rect x="1484.32" y="286.36" width="8.91" height="8.69" fill="#440256"/>
<rect x="1484.32" y="277.72" width="8.91" height="8.69" fill="#46075a"/>
<rect x="1484.32" y="269.08" width="8.91" height="8.69" fill="#471164"/>
<rect x="1484.32" y="260.44" width="8.91" height="8.69" fill="#482576"/>
<rect x="1484.32" y="251.8" width="8.91" height="8.69" fill="#423f85"/>
<rect x="1484.32" y="243.16" width="8.91" height="8.69" fill="#38598c"/>
<rect x="1484.32" y="234.52" width="8.91" height="8.69" fill="#32658e"/>
<rect x="1484.32" y="225.88" width="8.91" height="8.69" fill="#2f6c8e"/>
<rect x="1484.32" y="217.24" width="8.91" height="8.69" fill="#365d8d"/>
<rect x="1484.32" y="208.6" width="8.91" height="8.69" fill="#424186"/>
<rect x="1484.32" y="199.96" width="8.91" height="8.69" fill="#472e7c"/>
<rect x="1484.32" y="191.32" width="8.91" height="8.69" fill="#481a6c"/>
<rect x="1484.32" y="182.68" width="8.91" height="8.69" fill="#470d60"/>
<rect x="1484.32" y="174.04" width="8.91" height="8.69" fill="#450457"/>
<rect x="1484.32" y="165.4" width="8.91" height="8.69" fill="#450457"/>
<rect x="1493.18" y="277.72" width="8.91" height="8.69" fill="#440256"/>
<rect x="1493.18" y="269.08" width="8.91" height="8.69" fill="#450559"/>
<rect x="1493.18" y="260.44" width="8.91" height="8.69" fill="#471063"/>
<rect x="1493.18" y="251.8" width="8.91" height="8.69" fill="#482173"/>
<rect x="1493.18" y="243.16" width="8.91" height="8.69" fill="#46337f"/>
<rect x="1493.18" y="234.52" width="8.91" height="8.69" fill="#365c8d"/>
<rect x="1493.18" y="225.88" width="8.91" height="8.69" fill="#306a8e"/>
<rect x="1493.18" y="217.24" width="8.91" height="8.69" fill="#33628d"/>
<rect x="1493.18" y="208.6" width="8.91" height="8.69" fill="#34608d"/>
<rect x="1493.18" y="199.96" width="8.91" height="8.69" fill="#424186"/>
<rect x="1493.18" y="191.32" width="8.91" height="8.69" fill="#472d7b"/>
<rect x="1493.18" y="182.68" width="8.91" height="8.69" fill="#481668"/>
<rect x="1493.18" y="174.04" width="8.91" height="8.69" fill="#460a5d"/>
<rect x="1493.18" y="165.4" width="8.91" height="8.69" fill="#450559"/>
<rect x="1493.18" y="156.76" width="8.91" height="8.69" fill="#440256"/>
<rect x="1502.04" y="269.08" width="8.91" height="8.69" fill="#440256"/>
<rect x="1502.04" y="260.44" width="8.91" height="8.69" fill="#450457"/>
<rect x="1502.04" y="251.8" width="8.91" height="8.69" fill="#470d60"/>
<rect x="1502.04" y="243.16" width="8.91" height="8.69" fill="#482071"/>
<rect x="1502.04" y="234.52" width="8.91" height="8.69" fill="#472e7c"/>
<rect x="1502.04" y="225.88" width="8.91" height="8.69" fill="#404588"/>
<rect x="1502.04" y="217.24" width="8.91" height="8.69" fill="#375b8d"/>
<rect x="1502.04" y="208.6" width="8.91" height="8.69" fill="#33638d"/>
<rect x="1502.04" y="199.96" width="8.91" height="8.69" fill="#3c508b"/>
<rect x="1502.04" y="191.32" width="8.91" height="8.69" fill="#443a83"/>
<rect x="1502.04" y="182.68" width="8.91" height="8.69" fill="#482475"/>
<rect x="1502.04" y="174.04" width="8.91" height="8.69" fill="#471365"/>
<rect x="1502.04" y="165.4" width="8.91" height="8.69" fill="#460a5d"/>
<rect x="1502.04" y="156.76" width="8.91" height="8.69" fill="#440256"/>
<rect x="1502.04" y="148.12" width="8.91" height="8.69" fill="#440256"/>
<rect x="1510.9" y="251.8" width="8.91" height="8.69" fill="#450559"/>
<rect x="1510.9" y="243.16" width="8.91" height="8.69" fill="#470d60"/>
<rect x="1510.9" y="234.52" width="8.91" height="8.69" fill="#481c6e"/>
<rect x="1510.9" y="225.88" width="8.91" height="8.69" fill="#472c7a"/>
<rect x="1510.9" y="217.24" width="8.91" height="8.69" fill="#423f85"/>
<rect x="1510.9" y="208.6" width="8.91" height="8.69" fill="#375a8c"/>
<rect x="1510.9" y="199.96" width="8.91" height="8.69" fill="#38588c"/>
<rect x="1510.9" y="191.32" width="8.91" height="8.69" fill="#3c4f8a"/>
<rect x="1510.9" y="182.68" width="8.91" height="8.69" fill="#433e85"/>
<rect x="1510.9" y="174.04" width="8.91" height="8.69" fill="#482979"/>
<rect x="1510.9" y="165.4" width="8.91" height="8.69" fill="#481769"/>
<rect x="1510.9" y="156.76" width="8.91" height="8.69" fill="#46085c"/>
<rect x="1510.9" y="148.12" width="8.91" height="8.69" fill="#450457"/>
<rect x="1510.9" y="139.48" width="8.91" height="8.69" fill="#440256"/>
<rect x="1519.76" y="251.8" width="8.91" height="8.69" fill="#440256"/>
<rect x="1519.76" y="243.16" width="8.91" height="8.69" fill="#450457"/>
<rect x="1519.76" y="234.52" width="8.91" height="8.69" fill="#460b5e"/>
<rect x="1519.76" y="225.88" width="8.91" height="8.69" fill="#481668"/>
<rect x="1519.76" y="217.24" width="8.91" height="8.69" fill="#482878"/>
<rect x="1519.76" y="208.6" width="8.91" height="8.69" fill="#443983"/>
<rect x="1519.76" y="199.96" width="8.91" height="8.69" fill="#3e4a89"/>
<rect x="1519.76" y="191.32" width="8.91" height="8.69" fill="#39558c"/>
<rect x="1519.76" y="182.68" width="8.91" height="8.69" fill="#3f4889"/>
<rect x="1519.76" y="174.04" width="8.91" height="8.69" fill="#46337f"/>
<rect x="1519.76" y="165.4" width="8.91" height="8.69" fill="#482677"/>
<rect x="1519.76" y="156.76" width="8.91" height="8.69" fill="#471063"/>
<rect x="1519.76" y="148.12" width="8.91" height="8.69" fill="#460a5d"/>
<rect x="1519.76" y="139.48" width="8.91" height="8.69" fill="#450559"/>
<rect x="1519.76" y="130.84" width="8.91" height="8.69" fill="#440256"/>
<rect x="1528.62" y="251.8" width="8.91" height="8.69" fill="#440256"/>
<rect x="1528.62" y="234.52" width="8.91" height="8.69" fill="#46075a"/>
<rect x="1528.62" y="225.88" width="8.91" height="8.69" fill="#46085c"/>
<rect x="1528.62" y="217.24" width="8.91" height="8.69" fill="#471365"/>
<rect x="1528.62" y="208.6" width="8.91" height="8.69" fill="#482071"/>
<rect x="1528.62" y="199.96" width="8.91" height="8.69" fill="#453781"/>
<rect x="1528.62" y="191.32" width="8.91" height="8.69" fill="#433d84"/>
<rect x="1528.62" y="182.68" width="8.91" height="8.69" fill="#3d4e8a"/>
<rect x="1528.62" y="174.04" width="8.91" height="8.69" fill="#404688"/>
<rect x="1528.62" y="165.4" width="8.91" height="8.69" fill="#472d7b"/>
<rect x="1528.62" y="156.76" width="8.91" height="8.69" fill="#481d6f"/>
<rect x="1528.62" y="148.12" width="8.91" height="8.69" fill="#471365"/>
<rect x="1528.62" y="139.48" width="8.91" height="8.69" fill="#46085c"/>
<rect x="1528.62" y="130.84" width="8.91" height="8.69" fill="#450559"/>
<rect x="1528.62" y="122.2" width="8.91" height="8.69" fill="#440256"/>
<rect x="1528.62" y="113.56" width="8.91" height="8.69" fill="#440256"/>
<rect x="1537.48" y="234.52" width="8.91" height="8.69" fill="#440256"/>
<rect x="1537.48" y="225.88" width="8.91" height="8.69" fill="#440256"/>
<rect x="1537.48" y="217.24" width="8.91" height="8.69" fill="#46075a"/>
<rect x="1537.48" y="208.6" width="8.91" height="8.69" fill="#471164"/>
<rect x="1537.48" y="199.96" width="8.91" height="8.69" fill="#482071"/>
<rect x="1537.48" y="191.32" width="8.91" height="8.69" fill="#46327e"/>
<rect x="1537.48" y="182.68" width="8.91" height="8.69" fill="#443b84"/>
<rect x="1537.48" y="174.04" width="8.91" height="8.69" fill="#404588"/>
<rect x="1537.48" y="165.4" width="8.91" height="8.69" fill="#463480"/>
<rect x="1537.48" y="156.76" width="8.91" height="8.69" fill="#46307e"/>
<rect x="1537.48" y="148.12" width="8.91" height="8.69" fill="#481d6f"/>
<rect x="1537.48" y="139.48" width="8.91" height="8.69" fill="#471063"/>
<rect x="1537.48" y="130.84" width="8.91" height="8.69" fill="#46085c"/>
<rect x="1537.48" y="122.2" width="8.91" height="8.69" fill="#440256"/>
<rect x="1546.34" y="217.24" width="8.91" height="8.69" fill="#450457"/>
<rect x="1546.34" y="208.6" width="8.91" height="8.69" fill="#460a5d"/>
<rect x="1546.34" y="199.96" width="8.91" height="8.69" fill="#470e61"/>
<rect x="1546.34" y="191.32" width="8.91" height="8.69" fill="#481c6e"/>
<rect x="1546.34" y="182.68" width="8.91" height="8.69" fill="#482878"/>
<rect x="1546.34" y="174.04" width="8.91" height="8.69" fill="#46327e"/>
<rect x="1546.34" y="165.4" width="8.91" height="8.69" fill="#423f85"/>
<rect x="1546.34" y="156.76" width="8.91" height="8.69" fill="#453882"/>
<rect x="1546.34" y="148.12" width="8.91" height="8.69" fill="#472c7a"/>
<rect x="1546.34" y="139.48" width="8.91" height="8.69" fill="#481f70"/>
<rect x="1546.34" y="130.84" width="8.91" height="8.69" fill="#470e61"/>
<rect x="1546.34" y="122.2" width="8.91" height="8.69" fill="#46075a"/>
<rect x="1546.34" y="113.56" width="8.91" height="8.69" fill="#440256"/>
<rect x="1546.34" y="104.92" width="8.91" height="8.69" fill="#440256"/>
<rect x="1555.2" y="208.6" width="8.91" height="8.69" fill="#450457"/>
<rect x="1555.2" y="199.96" width="8.91" height="8.69" fill="#450559"/>
<rect x="1555.2" y="191.32" width="8.91" height="8.69" fill="#460a5d"/>
<rect x="1555.2" y="182.68" width="8.91" height="8.69" fill="#481668"/>
<rect x="1555.2" y="174.04" width="8.91" height="8.69" fill="#482071"/>
<rect x="1555.2" y="165.4" width="8.91" height="8.69" fill="#463480"/>
<rect x="1555.2" y="156.76" width="8.91" height="8.69" fill="#463480"/>
<rect x="1555.2" y="148.12" width="8.91" height="8.69" fill="#46327e"/>
<rect x="1555.2" y="139.48" width="8.91" height="8.69" fill="#472c7a"/>
<rect x="1555.2" y="130.84" width="8.91" height="8.69" fill="#481a6c"/>
<rect x="1555.2" y="122.2" width="8.91" height="8.69" fill="#460b5e"/>
<rect x="1555.2" y="113.56" width="8.91" height="8.69" fill="#46075a"/>
<rect x="1555.2" y="104.92" width="8.91" height="8.69" fill="#450457"/>
<rect x="1564.06" y="199.96" width="8.91" height="8.69" fill="#440256"/>
<rect x="1564.06" y="191.32" width="8.91" height="8.69" fill="#440256"/>
<rect x="1564.06" y="182.68" width="8.91" height="8.69" fill="#470e61"/>
<rect x="1564.06" y="174.04" width="8.91" height="8.69" fill="#470e61"/>
<rect x="1564.06" y="165.4" width="8.91" height="8.69" fill="#482475"/>
<rect x="1564.06" y="156.76" width="8.91" height="8.69" fill="#472e7c"/>
<rect x="1564.06" y="148.12" width="8.91" height="8.69" fill="#46337f"/>
<rect x="1564.06" y="139.48" width="8.91" height="8.69" fill="#472e7c"/>
<rect x="1564.06" y="130.84" width="8.91" height="8.69" fill="#481769"/>
<rect x="1564.06" y="122.2" width="8.91" height="8.69" fill="#481b6d"/>
<rect x="1564.06" y="113.56" width="8.91" height="8.69" fill="#460b5e"/>
<rect x="1564.06" y="104.92" width="8.91" height="8.69" fill="#450457"/>
<rect x="1564.06" y="96.28" width="8.91" height="8.69" fill="#440256"/>
<rect x="1572.92" y="182.68" width="8.91" height="8.69" fill="#450559"/>
<rect x="1572.92" y="174.04" width="8.91" height="8.69" fill="#46085c"/>
<rect x="1572.92" y="165.4" width="8.91" height="8.69" fill="#481467"/>
<rect x="1572.92" y="156.76" width="8.91" height="8.69" fill="#48186a"/>
<rect x="1572.92" y="148.12" width="8.91" height="8.69" fill="#481c6e"/>
<rect x="1572.92" y="139.48" width="8.91" height="8.69" fill="#472c7a"/>
<rect x="1572.92" y="130.84" width="8.91" height="8.69" fill="#482878"/>
<rect x="1572.92" y="122.2" width="8.91" height="8.69" fill="#48186a"/>
<rect x="1572.92" y="113.56" width="8.91" height="8.69" fill="#481668"/>
<rect x="1572.92" y="104.92" width="8.91" height="8.69" fill="#460b5e"/>
<rect x="1572.92" y="96.28" width="8.91" height="8.69" fill="#46075a"/>
<rect x="1572.92" y="87.64" width="8.91" height="8.69" fill="#440256"/>
<rect x="1572.92" y="79" width="8.91" height="8.69" fill="#440256"/>
<rect x="1581.78" y="174.04" width="8.91" height="8.69" fill="#440256"/>
<rect x="1581.78" y="165.4" width="8.91" height="8.69" fill="#46075a"/>
<rect x="1581.78" y="156.76" width="8.91" height="8.69" fill="#470e61"/>
<rect x="1581.78" y="148.12" width="8.91" height="8.69" fill="#481467"/>
<rect x="1581.78" y="139.48" width="8.91" height="8.69" fill="#482475"/>
<rect x="1581.78" y="130.84" width="8.91" height="8.69" fill="#482576"/>
<rect x="1581.78" y="122.2" width="8.91" height="8.69" fill="#482576"/>
<rect x="1581.78" y="113.56" width="8.91" height="8.69" fill="#482071"/>
<rect x="1581.78" y="104.92" width="8.91" height="8.69" fill="#481668"/>
<rect x="1581.78" y="96.28" width="8.91" height="8.69" fill="#46085c"/>
<rect x="1581.78" y="87.64" width="8.91" height="8.69" fill="#46075a"/>
<rect x="1581.78" y="79" width="8.91" height="8.69" fill="#440256"/>
<rect x="1590.64" y="165.4" width="8.91" height="8.69" fill="#450559"/>
<rect x="1590.64" y="156.76" width="8.91" height="8.69" fill="#450559"/>
<rect x="1590.64" y="148.12" width="8.91" height="8.69" fill="#470d60"/>
<rect x="1590.64" y="139.48" width="8.91" height="8.69" fill="#48186a"/>
<rect x="1590.64" y="130.84" width="8.91" height="8.69" fill="#481769"/>
<rect x="1590.64" y="122.2" width="8.91" height="8.69" fill="#482374"/>
<rect x="1590.64" y="113.56" width="8.91" height="8.69" fill="#482071"/>
<rect x="1590.64" y="104.92" width="8.91" height="8.69" fill="#482173"/>
<rect x="1590.64" y="96.28" width="8.91" height="8.69" fill="#471365"/>
<rect x="1590.64" y="87.64" width="8.91" height="8.69" fill="#460b5e"/>
<rect x="1590.64" y="79" width="8.91" height="8.69" fill="#450559"/>
<rect x="1590.64" y="70.36" width="8.91" height="8.69" fill="#440256"/>
<rect x="1599.5" y="156.76" width="8.91" height="8.69" fill="#440256"/>
<rect x="1599.5" y="148.12" width="8.91" height="8.69" fill="#46085c"/>
<rect x="1599.5" y="139.48" width="8.91" height="8.69" fill="#470d60"/>
<rect x="1599.5" y="130.84" width="8.91" height="8.69" fill="#481668"/>
<rect x="1599.5" y="122.2" width="8.91" height="8.69" fill="#481c6e"/>
<rect x="1599.5" y="113.56" width="8.91" height="8.69" fill="#481a6c"/>
<rect x="1599.5" y="104.92" width="8.91" height="8.69" fill="#482173"/>
<rect x="1599.5" y="96.28" width="8.91" height="8.69" fill="#481668"/>
<rect x="1599.5" y="87.64" width="8.91" height="8.69" fill="#471365"/>
<rect x="1599.5" y="79" width="8.91" height="8.69" fill="#46075a"/>
<rect x="1599.5" y="70.36" width="8.91" height="8.69" fill="#450559"/>
<rect x="1608.36" y="156.76" width="8.91" height="8.69" fill="#440256"/>
<rect x="1608.36" y="148.12" width="8.91" height="8.69" fill="#450457"/>
<rect x="1608.36" y="139.48" width="8.91" height="8.69" fill="#440256"/>
<rect x="1608.36" y="130.84" width="8.91" height="8.69" fill="#460a5d"/>
<rect x="1608.36" y="122.2" width="8.91" height="8.69" fill="#481467"/>
<rect x="1608.36" y="113.56" width="8.91" height="8.69" fill="#481769"/>
<rect x="1608.36" y="104.92" width="8.91" height="8.69" fill="#481f70"/>
<rect x="1608.36" y="96.28" width="8.91" height="8.69" fill="#481b6d"/>
<rect x="1608.36" y="87.64" width="8.91" height="8.69" fill="#481668"/>
<rect x="1608.36" y="79" width="8.91" height="8.69" fill="#470e61"/>
<rect x="1608.36" y="70.36" width="8.91" height="8.69" fill="#450559"/>
<rect x="1608.36" y="61.72" width="8.91" height="8.69" fill="#450457"/>
<rect x="1608.36" y="53.08" width="8.91" height="8.69" fill="#440256"/>
<rect x="1617.22" y="148.12" width="8.91" height="8.69" fill="#440256"/>
<rect x="1617.22" y="130.84" width="8.91" height="8.69" fill="#450559"/>
<rect x="1617.22" y="122.2" width="8.91" height="8.69" fill="#460b5e"/>
<rect x="1617.22" y="113.56" width="8.91" height="8.69" fill="#471164"/>
<rect x="1617.22" y="104.92" width="8.91" height="8.69" fill="#471164"/>
<rect x="1617.22" y="96.28" width="8.91" height="8.69" fill="#481a6c"/>
<rect x="1617.22" y="87.64" width="8.91" height="8.69" fill="#481769"/>
<rect x="1617.22" y="79" width="8.91" height="8.69" fill="#481668"/>
<rect x="1617.22" y="70.36" width="8.91" height="8.69" fill="#470d60"/>
<rect x="1617.22" y="61.72" width="8.91" height="8.69" fill="#46075a"/>
<rect x="1617.22" y="53.08" width="8.91" height="8.69" fill="#450457"/>
<rect x="1617.22" y="44.44" width="8.91" height="8.69" fill="#440256"/>
<rect x="1626.08" y="130.84" width="8.91" height="8.69" fill="#440256"/>
<rect x="1626.08" y="122.2" width="8.91" height="8.69" fill="#450457"/>
<rect x="1626.08" y="113.56" width="8.91" height="8.69" fill="#46085c"/>
<rect x="1626.08" y="104.92" width="8.91" height="8.69" fill="#460b5e"/>
<rect x="1626.08" y="96.28" width="8.91" height="8.69" fill="#471164"/>
<rect x="1626.08" y="87.64" width="8.91" height="8.69" fill="#481467"/>
<rect x="1626.08" y="79" width="8.91" height="8.69" fill="#471365"/>
<rect x="1626.08" y="70.36" width="8.91" height="8.69" fill="#470e61"/>
<rect x="1626.08" y="61.72" width="8.91" height="8.69" fill="#471063"/>
<rect x="1626.08" y="53.08" width="8.91" height="8.69" fill="#46085c"/>
<rect x="1626.08" y="44.44" width="8.91" height="8.69" fill="#440256"/>
<rect x="1634.94" y="113.56" width="8.91" height="8.69" fill="#450559"/>
<rect x="1634.94" y="104.92" width="8.91" height="8.69" fill="#46075a"/>
<rect x="1634.94" y="96.28" width="8.91" height="8.69" fill="#470d60"/>
<rect x="1634.94" y="87.64" width="8.91" height="8.69" fill="#471365"/>
<rect x="1634.94" y="79" width="8.91" height="8.69" fill="#481668"/>
<rect x="1634.94" y="70.36" width="8.91" height="8.69" fill="#481668"/>
<rect x="1634.94" y="61.72" width="8.91" height="8.69" fill="#471164"/>
<rect x="1634.94" y="53.08" width="8.91" height="8.69" fill="#46085c"/>
<rect x="1634.94" y="44.44" width="8.91" height="8.69" fill="#450457"/>
<rect x="1634.94" y="35.8" width="8.91" height="8.69" fill="#440256"/>
<rect x="1634.94" y="27.16" width="8.91" height="8.69" fill="#440256"/>
<rect x="1643.8" y="104.92" width="8.91" height="8.69" fill="#440256"/>
<rect x="1643.8" y="96.28" width="8.91" height="8.69" fill="#450559"/>
<rect x="1643.8" y="87.64" width="8.91" height="8.69" fill="#460b5e"/>
<rect x="1643.8" y="79" width="8.91" height="8.69" fill="#471164"/>
<rect x="1643.8" y="70.36" width="8.91" height="8.69" fill="#481467"/>
<rect x="1643.8" y="61.72" width="8.91" height="8.69" fill="#471164"/>
<rect x="1643.8" y="53.08" width="8.91" height="8.69" fill="#470e61"/>
<rect x="1643.8" y="44.44" width="8.91" height="8.69" fill="#460a5d"/>
<rect x="1643.8" y="35.8" width="8.91" height="8.69" fill="#46075a"/>
<rect x="1643.8" y="27.16" width="8.91" height="8.69" fill="#440256"/>
<rect x="1643.8" y="18.52" width="8.91" height="8.69" fill="#440256"/>
<rect x="1652.66" y="104.92" width="8.91" height="8.69" fill="#440256"/>
<rect x="1652.66" y="96.28" width="8.91" height="8.69" fill="#440256"/>
<rect x="1652.66" y="87.64" width="8.91" height="8.69" fill="#450559"/>
<rect x="1652.66" y="79" width="8.91" height="8.69" fill="#46085c"/>
<rect x="1652.66" y="70.36" width="8.91" height="8.69" fill="#470e61"/>
<rect x="1652.66" y="61.72" width="8.91" height="8.69" fill="#460b5e"/>
<rect x="1652.66" y="53.08" width="8.91" height="8.69" fill="#471063"/>
<rect x="1652.66" y="44.44" width="8.91" height="8.69" fill="#471164"/>
<rect x="1652.66" y="35.8" width="8.91" height="8.69" fill="#46085c"/>
<rect x="1652.66" y="27.16" width="8.91" height="8.69" fill="#450559"/>
<rect x="1652.66" y="18.52" width="8.91" height="8.69" fill="#440256"/>
<rect x="1661.52" y="96.28" width="8.91" height="8.69" fill="#440256"/>
<rect x="1661.52" y="87.64" width="8.91" height="8.69" fill="#440256"/>
<rect x="1661.52" y="79" width="8.91" height="8.69" fill="#450457"/>
<rect x="1661.52" y="70.36" width="8.91" height="8.69" fill="#46075a"/>
<rect x="1661.52" y="61.72" width="8.91" height="8.69" fill="#470e61"/>
<rect x="1661.52" y="53.08" width="8.91" height="8.69" fill="#471063"/>
<rect x="1661.52" y="44.44" width="8.91" height="8.69" fill="#470d60"/>
<rect x="1661.52" y="35.8" width="8.91" height="8.69" fill="#460b5e"/>
<rect x="1661.52" y="27.16" width="8.91" height="8.69" fill="#460a5d"/>
<rect x="1661.52" y="18.52" width="8.91" height="8.69" fill="#450559"/>
<rect x="1670.38" y="79" width="8.91" height="8.69" fill="#440256"/>
<rect x="1670.38" y="70.36" width="8.91" height="8.69" fill="#450559"/>
<rect x="1670.38" y="61.72" width="8.91" height="8.69" fill="#46085c"/>
<rect x="1670.38" y="53.08" width="8.91" height="8.69" fill="#46085c"/>
<rect x="1670.38" y="44.44" width="8.91" height="8.69" fill="#470d60"/>
<rect x="1670.38" y="35.8" width="8.91" height="8.69" fill="#470d60"/>
<rect x="1670.38" y="27.16" width="8.91" height="8.69" fill="#460a5d"/>
<rect x="1670.38" y="18.52" width="8.91" height="8.69" fill="#46085c"/>
<rect x="1670.38" y="9.88" width="8.91" height="8.69" fill="#450457"/>
<rect x="1670.38" y="1.24" width="8.91" height="8.69" fill="#440256"/>
<rect x="1670.38" y="-7.4" width="8.91" height="8.69" fill="#440256"/>
<rect x="1679.24" y="61.72" width="8.91" height="8.69" fill="#450559"/>
<rect x="1679.24" y="53.08" width="8.91" height="8.69" fill="#460a5d"/>
<rect x="1679.24" y="44.44" width="8.91" height="8.69" fill="#460a5d"/>
<rect x="1679.24" y="35.8" width="8.91" height="8.69" fill="#460a5d"/>
<rect x="1679.24" y="27.16" width="8.91" height="8.69" fill="#470d60"/>
<rect x="1679.24" y="18.52" width="8.91" height="8.69" fill="#470d60"/>
<rect x="1679.24" y="9.88" width="8.91" height="8.69" fill="#46075a"/>
<rect x="1679.24" y="1.24" width="8.91" height="8.69" fill="#450457"/>
<rect x="1679.24" y="-7.4" width="8.91" height="8.69" fill="#440256"/>
<rect x="1688.1" y="61.72" width="8.91" height="8.69" fill="#440256"/>
<rect x="1688.1" y="53.08" width="8.91" height="8.69" fill="#450559"/>
<rect x="1688.1" y="44.44" width="8.91" height="8.69" fill="#450559"/>
<rect x="1688.1" y="35.8" width="8.91" height="8.69" fill="#46075a"/>
<rect x="1688.1" y="27.16" width="8.91" height="8.69" fill="#460b5e"/>
<rect x="1688.1" y="18.52" width="8.91" height="8.69" fill="#46075a"/>
<rect x="1688.1" y="9.88" width="8.91" height="8.69" fill="#46085c"/>
<rect x="1688.1" y="1.24" width="8.91" height="8.69" fill="#46075a"/>
<rect x="1688.1" y="-7.4" width="8.91" height="8.69" fill="#450457"/>
<rect x="1696.96" y="44.44" width="8.91" height="8.69" fill="#440256"/>
<rect x="1696.96" y="35.8" width="8.91" height="8.69" fill="#450559"/>
<rect x="1696.96" y="27.16" width="8.91" height="8.69" fill="#440256"/>
<rect x="1696.96" y="18.52" width="8.91" height="8.69" fill="#460a5d"/>
<rect x="1696.96" y="9.88" width="8.91" height="8.69" fill="#470d60"/>
<rect x="1696.96" y="1.24" width="8.91" height="8.69" fill="#450457"/>
<rect x="1696.96" y="-7.4" width="8.91" height="8.69" fill="#450559"/>
<rect x="1705.82" y="35.8" width="8.91" height="8.69" fill="#450559"/>
<rect x="1705.82" y="27.16" width="8.91" height="8.69" fill="#450559"/>
<rect x="1705.82" y="18.52" width="8.91" height="8.69" fill="#46085c"/>
<rect x="1705.82" y="9.88" width="8.91" height="8.69" fill="#46085c"/>
<rect x="1705.82" y="1.24" width="8.91" height="8.69" fill="#46085c"/>
<rect x="1705.82" y="-7.4" width="8.91" height="8.69" fill="#46075a"/>
<rect x="1714.68" y="35.8" width="8.91" height="8.69" fill="#440256"/>
<rect x="1714.68" y="27.16" width="8.91" height="8.69" fill="#450457"/>
<rect x="1714.68" y="18.52" width="8.91" height="8.69" fill="#450457"/>
<rect x="1714.68" y="9.88" width="8.91" height="8.69" fill="#450559"/>
<rect x="1714.68" y="1.24" width="8.91" height="8.69" fill="#460b5e"/>
<rect x="1714.68" y="-7.4" width="8.91" height="8.69" fill="#460a5d"/>
<rect x="1723.54" y="18.52" width="8.91" height="8.69" fill="#450457"/>
<rect x="1723.54" y="9.88" width="8.91" height="8.69" fill="#450457"/>
<rect x="1723.54" y="1.24" width="8.91" height="8.69" fill="#450457"/>
<rect x="1723.54" y="-7.4" width="8.91" height="8.69" fill="#46075a"/>
</g>
<line x1="1022.9" y1="683.8" x2="1724.2" y2="2" stroke="#808080" stroke-width="1.8" stroke-opacity="0.55" clip-path="url(#cr)"/>
<path d="M1022.8 1.25v15.4M1022.8 683.8v-15.4M1111.52 1.25v15.4M1111.52 683.8v-15.4M1200.25 1.25v15.4M1200.25 683.8v-15.4M1288.97 1.25v15.4M1288.97 683.8v-15.4M1377.7 1.25v15.4M1377.7 683.8v-15.4M1466.42 1.25v15.4M1466.42 683.8v-15.4M1555.15 1.25v15.4M1555.15 683.8v-15.4M1643.88 1.25v15.4M1643.88 683.8v-15.4" stroke="#000" stroke-width="1.25" fill="none"/>
<path d="M1040.54 1.25v7.7M1040.54 683.8v-7.7M1058.29 1.25v7.7M1058.29 683.8v-7.7M1076.03 1.25v7.7M1076.03 683.8v-7.7M1093.78 1.25v7.7M1093.78 683.8v-7.7M1129.27 1.25v7.7M1129.27 683.8v-7.7M1147.01 1.25v7.7M1147.01 683.8v-7.7M1164.76 1.25v7.7M1164.76 683.8v-7.7M1182.5 1.25v7.7M1182.5 683.8v-7.7M1217.99 1.25v7.7M1217.99 683.8v-7.7M1235.74 1.25v7.7M1235.74 683.8v-7.7M1253.48 1.25v7.7M1253.48 683.8v-7.7M1271.23 1.25v7.7M1271.23 683.8v-7.7M1306.72 1.25v7.7M1306.72 683.8v-7.7M1324.46 1.25v7.7M1324.46 683.8v-7.7M1342.21 1.25v7.7M1342.21 683.8v-7.7M1359.95 1.25v7.7M1359.95 683.8v-7.7M1395.44 1.25v7.7M1395.44 683.8v-7.7M1413.19 1.25v7.7M1413.19 683.8v-7.7M1430.93 1.25v7.7M1430.93 683.8v-7.7M1448.68 1.25v7.7M1448.68 683.8v-7.7M1484.17 1.25v7.7M1484.17 683.8v-7.7M1501.91 1.25v7.7M1501.91 683.8v-7.7M1519.66 1.25v7.7M1519.66 683.8v-7.7M1537.4 1.25v7.7M1537.4 683.8v-7.7M1572.89 1.25v7.7M1572.89 683.8v-7.7M1590.64 1.25v7.7M1590.64 683.8v-7.7M1608.38 1.25v7.7M1608.38 683.8v-7.7M1626.13 1.25v7.7M1626.13 683.8v-7.7M1661.62 1.25v7.7M1661.62 683.8v-7.7M1679.36 1.25v7.7M1679.36 683.8v-7.7M1697.11 1.25v7.7M1697.11 683.8v-7.7M1714.86 1.25v7.7M1714.86 683.8v-7.7" stroke="#000" stroke-width="1.0" fill="none"/>
<path d="M1023.2 683.8h15.4M1723.4 683.8h-15.4M1023.2 597.4h15.4M1723.4 597.4h-15.4M1023.2 511h15.4M1723.4 511h-15.4M1023.2 424.6h15.4M1723.4 424.6h-15.4M1023.2 338.2h15.4M1723.4 338.2h-15.4M1023.2 251.8h15.4M1723.4 251.8h-15.4M1023.2 165.4h15.4M1723.4 165.4h-15.4M1023.2 79h15.4M1723.4 79h-15.4" stroke="#000" stroke-width="1.25" fill="none"/>
<path d="M1023.2 666.52h7.7M1723.4 666.52h-7.7M1023.2 649.24h7.7M1723.4 649.24h-7.7M1023.2 631.96h7.7M1723.4 631.96h-7.7M1023.2 614.68h7.7M1723.4 614.68h-7.7M1023.2 580.12h7.7M1723.4 580.12h-7.7M1023.2 562.84h7.7M1723.4 562.84h-7.7M1023.2 545.56h7.7M1723.4 545.56h-7.7M1023.2 528.28h7.7M1723.4 528.28h-7.7M1023.2 493.72h7.7M1723.4 493.72h-7.7M1023.2 476.44h7.7M1723.4 476.44h-7.7M1023.2 459.16h7.7M1723.4 459.16h-7.7M1023.2 441.88h7.7M1723.4 441.88h-7.7M1023.2 407.32h7.7M1723.4 407.32h-7.7M1023.2 390.04h7.7M1723.4 390.04h-7.7M1023.2 372.76h7.7M1723.4 372.76h-7.7M1023.2 355.48h7.7M1723.4 355.48h-7.7M1023.2 320.92h7.7M1723.4 320.92h-7.7M1023.2 303.64h7.7M1723.4 303.64h-7.7M1023.2 286.36h7.7M1723.4 286.36h-7.7M1023.2 269.08h7.7M1723.4 269.08h-7.7M1023.2 234.52h7.7M1723.4 234.52h-7.7M1023.2 217.24h7.7M1723.4 217.24h-7.7M1023.2 199.96h7.7M1723.4 199.96h-7.7M1023.2 182.68h7.7M1723.4 182.68h-7.7M1023.2 148.12h7.7M1723.4 148.12h-7.7M1023.2 130.84h7.7M1723.4 130.84h-7.7M1023.2 113.56h7.7M1723.4 113.56h-7.7M1023.2 96.28h7.7M1723.4 96.28h-7.7M1023.2 61.72h7.7M1723.4 61.72h-7.7M1023.2 44.44h7.7M1723.4 44.44h-7.7M1023.2 27.16h7.7M1723.4 27.16h-7.7M1023.2 9.88h7.7M1723.4 9.88h-7.7" stroke="#000" stroke-width="1.0" fill="none"/>
<rect x="1023.2" y="1.25" width="700.2" height="682.55" fill="none" stroke="#000" stroke-width="2.8"/>
<g font-size="27.35" fill="#000">
<text x="1022.8" y="711.0" text-anchor="middle">0.00</text>
<text x="1018.6" y="693.7" text-anchor="end">0.00</text>
<text x="1111.52" y="711.0" text-anchor="middle">0.25</text>
<text x="1018.6" y="607.3" text-anchor="end">0.25</text>
<text x="1200.25" y="711.0" text-anchor="middle">0.50</text>
<text x="1018.6" y="520.9" text-anchor="end">0.50</text>
<text x="1288.97" y="711.0" text-anchor="middle">0.75</text>
<text x="1018.6" y="434.5" text-anchor="end">0.75</text>
<text x="1377.7" y="711.0" text-anchor="middle">1.00</text>
<text x="1018.6" y="348.1" text-anchor="end">1.00</text>
<text x="1466.42" y="711.0" text-anchor="middle">1.25</text>
<text x="1018.6" y="261.7" text-anchor="end">1.25</text>
<text x="1555.15" y="711.0" text-anchor="middle">1.50</text>
<text x="1018.6" y="175.3" text-anchor="end">1.50</text>
<text x="1643.88" y="711.0" text-anchor="middle">1.75</text>
<text x="1018.6" y="88.9" text-anchor="end">1.75</text>
</g>
<text x="1723.4" y="745.8" font-size="32.85" text-anchor="end">True EMD [GeV]</text>
<text transform="translate(954.1 1.35) rotate(-90)" font-size="32.67" text-anchor="end">Pred. EMD [GeV]</text>
</svg>
</body></html>
